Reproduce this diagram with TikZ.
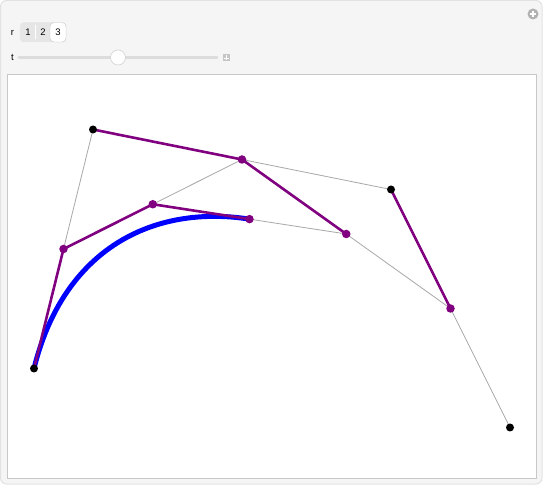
\documentclass[tikz,border=0pt]{standalone}
\usepackage{fontspec}
\setmainfont{Liberation Sans}
\usetikzlibrary{calc}
\definecolor{panelbg}{HTML}{F5F5F5}
\definecolor{panelline}{HTML}{E2E2E2}
\definecolor{boxline}{HTML}{C8C8C8}
\definecolor{ctrlgray}{HTML}{E6E6E6}
\definecolor{polygray}{HTML}{A8A8A8}
\definecolor{bezpurple}{HTML}{800080}
\tikzset{
  ctrlpt/.style={circle,fill=black,inner sep=0pt,minimum size=8pt},
  midpt/.style={circle,fill=bezpurple,inner sep=0pt,minimum size=8.5pt},
  hull/.style={draw=polygray,line width=0.8pt},
  half/.style={draw=bezpurple,line width=2.6pt,line cap=round},
  curve/.style={draw=blue,line width=5pt},
  lbl/.style={font=\fontsize{9.5}{10}\selectfont,inner sep=0pt},
}
\begin{document}
\begin{tikzpicture}[x=1pt,y=-1pt]
\useasboundingbox (0,0) rectangle (544,486);
% panel
\draw[fill=panelbg,draw=panelline,line width=1pt,rounded corners=6pt] (0.5,0.5) rectangle (542,484);
% top right icon
\node[circle,fill=gray!60,inner sep=0pt,minimum size=11pt] (opt) at (533,14) {};
\draw[white,line width=1.4pt] (529.6,14) -- (536.4,14) (533,10.6) -- (533,17.4);
% r control
\node[lbl] (rlab) at (12.5,32.5) {r};
\draw[fill=ctrlgray,draw=ctrlgray,rounded corners=4pt] (20,22.5) rectangle (66,42);
\draw[fill=white,draw=gray!45,rounded corners=4pt] (50,22.5) rectangle (66,42);
\draw[draw=white,line width=0.8pt] (35.5,25) -- (35.5,39.5);
\node[lbl] (r1) at (28,32.5) {1};
\node[lbl] (r2) at (43,32.5) {2};
\node[lbl] (r3) at (58,32.5) {3};
% t control
\node[lbl] (tlab) at (12.5,57.5) {t};
\draw[line width=3pt,draw=ctrlgray!90!gray,line cap=round] (19,57.5) -- (217,57.5);
\node[circle,fill=white,draw=gray!35,line width=0.6pt,minimum size=15pt,inner sep=0pt] (knob) at (118,57.5) {};
\node[fill=gray!45,inner sep=0pt,minimum size=7pt] (plusbox) at (226.5,58) {};
\draw[white,line width=0.9pt] (224,58) -- (229,58) (226.5,55.5) -- (226.5,60.5);
% plot box
\draw[fill=white,draw=boxline,line width=1pt] (7,74.5) rectangle (536.5,478);
% control points
\coordinate (P0) at (34,368.5);
\coordinate (P1) at (93,129.5);
\coordinate (P2) at (391,189.5);
\coordinate (P3) at (510,427.5);
\coordinate (Q0) at ($(P0)!0.5!(P1)$);
\coordinate (Q1) at ($(P1)!0.5!(P2)$);
\coordinate (Q2) at ($(P2)!0.5!(P3)$);
\coordinate (R0) at ($(Q0)!0.5!(Q1)$);
\coordinate (R1) at ($(Q1)!0.5!(Q2)$);
\coordinate (S) at ($(R0)!0.5!(R1)$);
% curve
\draw[curve] (P0) .. controls (Q0) and (R0) .. (S);
% hulls
\draw[hull] (P0) -- (P1) -- (P2) -- (P3);
\draw[hull] (Q0) -- (Q1) -- (Q2);
\draw[hull] (R0) -- (R1);
% first halves
\draw[half] (P0) -- (Q0);
\draw[half] (P1) -- (Q1);
\draw[half] (P2) -- (Q2);
\draw[half] (Q0) -- (R0);
\draw[half] (Q1) -- (R1);
\draw[half] (R0) -- (S);
% dots
\node[midpt] (q0) at (Q0) {};
\node[midpt] (q1) at (Q1) {};
\node[midpt] (q2) at (Q2) {};
\node[midpt] (r0) at (R0) {};
\node[midpt] (r1) at (R1) {};
\node[midpt] (s) at (S) {};
\node[ctrlpt] (p0) at (P0) {};
\node[ctrlpt] (p1) at (P1) {};
\node[ctrlpt] (p2) at (P2) {};
\node[ctrlpt] (p3) at (P3) {};
\end{tikzpicture}
\end{document}
